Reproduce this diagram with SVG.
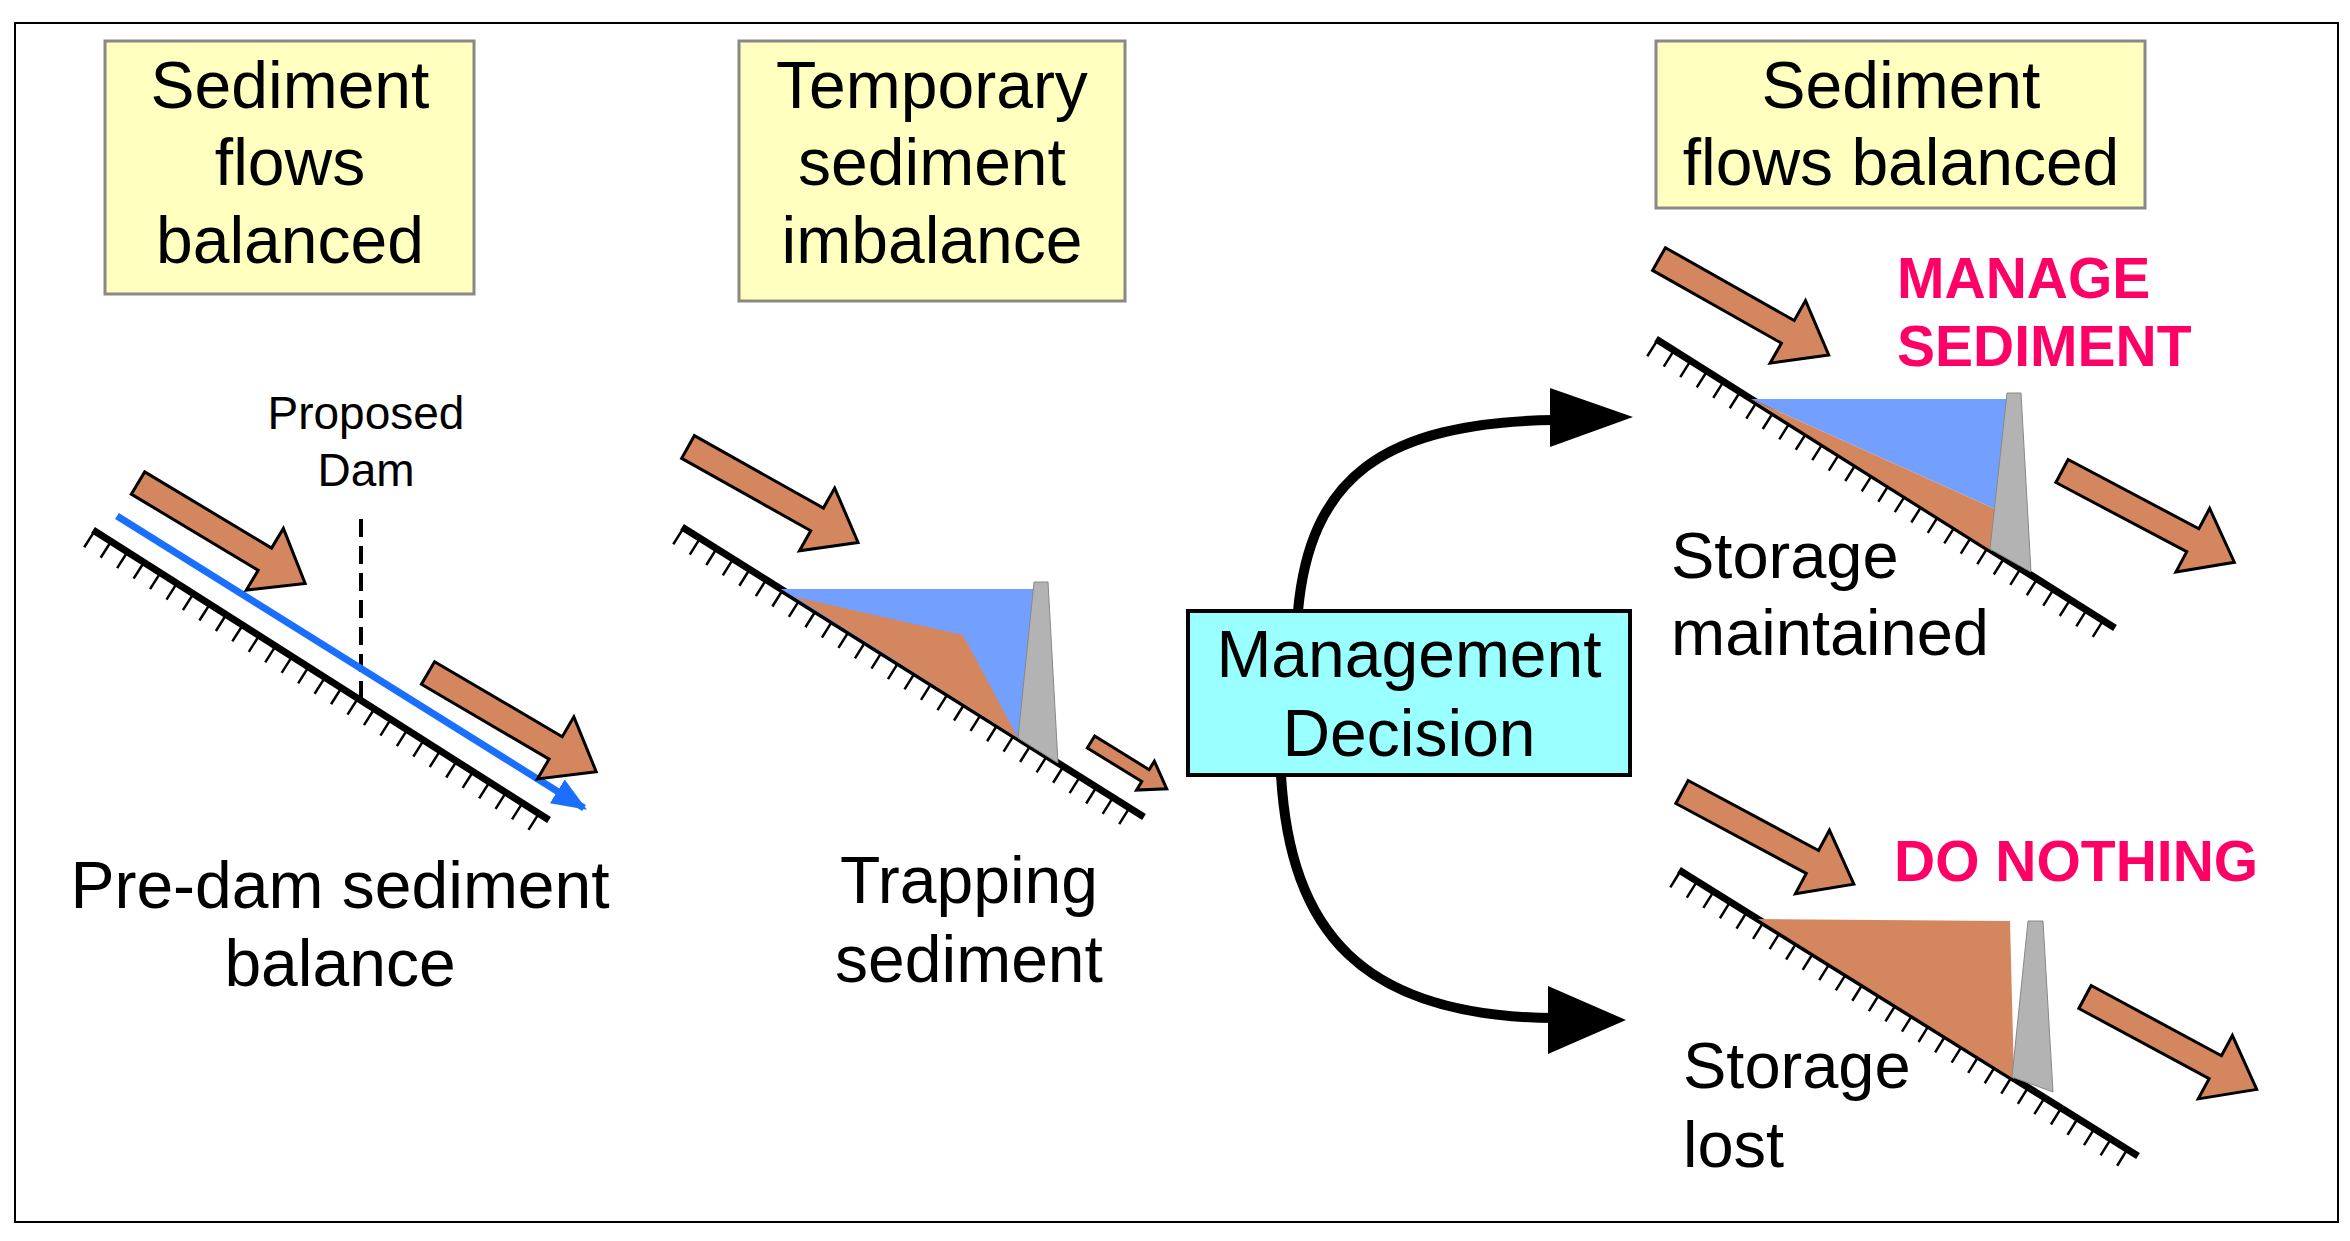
<svg xmlns="http://www.w3.org/2000/svg" xmlns:xlink="http://www.w3.org/1999/xlink" width="2350" height="1241" viewBox="0 0 2350 1241">
<style>
.t{font-family:"Liberation Sans",Arial,sans-serif;fill:#000}
.lab{font-size:66px;text-anchor:middle}
.red{font-family:"Liberation Sans",Arial,sans-serif;font-weight:bold;font-size:57px;fill:#ff0066}
.box{fill:#ffffc0;stroke:#888;stroke-width:3}
.gnd{stroke:#000;stroke-width:7}
.hat{stroke:#000;stroke-width:18;stroke-dasharray:2.5 17}
.arr{fill:#d4875f;stroke:#000;stroke-width:3;stroke-linejoin:miter}
.dam{fill:#b3b3b3;stroke:#888;stroke-width:1}
.water{fill:#73a0ff}
.sed{fill:#d4875f}
</style>
<defs>
<path id="ba" d="M0,-13 L148,-13 L148,-36 L195,0 L148,36 L148,13 L0,13 Z"/>
<path id="sa" d="M0,-7 L64,-7 L64,-17 L89,0 L64,17 L64,7 L0,7 Z"/>
<marker id="bh" viewBox="0 0 10 10" refX="9" refY="5" markerWidth="5" markerHeight="5" orient="auto" markerUnits="strokeWidth"><path d="M0,1 L10,5 L0,9 Z" fill="#1a6fff"/></marker>
</defs>
<rect x="15" y="23" width="2323" height="1199" fill="#fff" stroke="#000" stroke-width="2"/>

<g id="box1"><rect class="box" x="105" y="41" width="369" height="253"/>
<text class="t lab" x="290" y="108">Sediment</text><text class="t lab" x="290" y="185">flows</text><text class="t lab" x="290" y="263">balanced</text></g>
<g id="box2"><rect class="box" x="739" y="41" width="386" height="260"/>
<text class="t lab" x="932" y="108">Temporary</text><text class="t lab" x="932" y="185">sediment</text><text class="t lab" x="932" y="263">imbalance</text></g>
<g id="box3"><rect class="box" x="1656" y="41" width="489" height="167"/>
<text class="t lab" x="1901" y="108">Sediment</text><text class="t lab" x="1901" y="185">flows balanced</text></g>

<g id="panel1">
<line class="hat" x1="88" y1="539" x2="544" y2="829"/>
<line class="gnd" x1="93" y1="530" x2="549" y2="820"/>
<line x1="361" y1="519" x2="361" y2="700" stroke="#000" stroke-width="4" stroke-dasharray="18 9"/>
<line x1="117" y1="516" x2="584" y2="808" stroke="#1a6fff" stroke-width="7" marker-end="url(#bh)"/>
<use href="#ba" class="arr" transform="translate(138,483) rotate(31)"/>
<use href="#ba" class="arr" transform="translate(428,673) rotate(30.4)"/>
<text class="t" font-size="46" text-anchor="middle" x="366" y="429">Proposed</text>
<text class="t" font-size="46" text-anchor="middle" x="366" y="486">Dam</text>
<text class="t lab" x="340" y="908">Pre-dam sediment</text><text class="t lab" x="340" y="986">balance</text>
</g>

<g id="panel2">
<line class="hat" x1="677" y1="536" x2="1139" y2="826"/>
<line class="gnd" x1="682" y1="527" x2="1144" y2="817"/>
<polygon class="water" points="781,589 1036,589 1018,738"/>
<polygon class="sed" points="795,597 963,635 1018,738"/>
<polygon class="dam" points="1034,582 1048,582 1058,763 1018,738"/>
<use href="#ba" class="arr" transform="translate(688,447) rotate(29.3)"/>
<use href="#sa" class="arr" transform="translate(1091,742) rotate(31.7)"/>
<text class="t lab" x="969" y="903">Trapping</text><text class="t lab" x="969" y="982">sediment</text>
</g>

<g id="decision"><rect x="1188" y="611" width="442" height="164" fill="#99ffff" stroke="#000" stroke-width="4"/>
<text class="t lab" x="1409" y="677">Management</text><text class="t lab" x="1409" y="756">Decision</text></g>

<g id="connectors">
<path d="M1298,611 C1310,480 1380,422 1555,420" fill="none" stroke="#000" stroke-width="10"/>
<polygon points="1550,388 1633,417 1550,447"/>
<path d="M1281,775 C1290,930 1360,1017 1555,1018" fill="none" stroke="#000" stroke-width="10"/>
<polygon points="1548,986 1626,1020 1548,1054"/>
</g>

<g id="panel3">
<line class="hat" x1="1651" y1="348" x2="2110" y2="637"/>
<line class="gnd" x1="1656" y1="339" x2="2115" y2="628"/>
<polygon class="water" points="1751,399 2007,399 1995,509"/>
<polygon class="sed" points="1751,399 1995,509 1992,551"/>
<polygon class="dam" points="2007,393 2021,393 2031,572 1990,549"/>
<use href="#ba" class="arr" transform="translate(1659,259) rotate(29.5)"/>
<use href="#ba" class="arr" transform="translate(2062,471) rotate(27.9)"/>
<text class="red" x="1897" y="298">MANAGE</text><text class="red" x="1897" y="366">SEDIMENT</text>
<text class="t" font-size="65" x="1671" y="578">Storage</text><text class="t" font-size="65" x="1671" y="655">maintained</text>
</g>

<g id="panel4">
<line class="hat" x1="1674" y1="879" x2="2133" y2="1165"/>
<line class="gnd" x1="1679" y1="870" x2="2138" y2="1156"/>
<polygon class="sed" points="1758,919 2010,921 2014,1079"/>
<polygon class="dam" points="2028,921 2043,921 2053,1092 2012,1077"/>
<use href="#ba" class="arr" transform="translate(1682,792) rotate(28.2)"/>
<use href="#ba" class="arr" transform="translate(2085,997) rotate(28.3)"/>
<text class="red" x="1894" y="881">DO NOTHING</text>
<text class="t" font-size="65" x="1683" y="1088">Storage</text><text class="t" font-size="65" x="1683" y="1167">lost</text>
</g>
</svg>
